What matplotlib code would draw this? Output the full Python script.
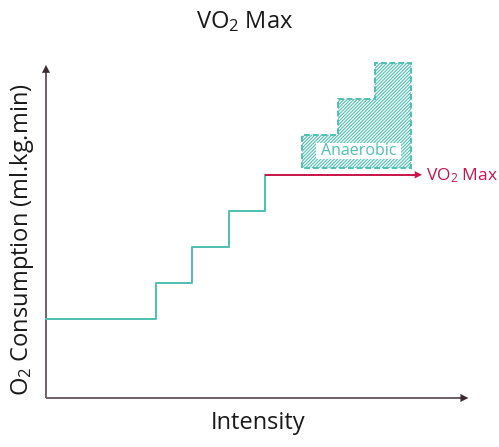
import matplotlib
matplotlib.use("Agg")
import matplotlib.pyplot as plt
from matplotlib.patches import Polygon, Rectangle

plt.rcParams['font.family'] = ['Open Sans', 'DejaVu Sans']
plt.rcParams['mathtext.default'] = 'regular'
plt.rcParams['hatch.linewidth'] = 0.8

# Data
step_x = [0, 3, 4, 5, 6]
step_y = [2.2, 3.2, 4.2, 5.2, 6.2]
vo2max_end = 10.1
anaer_x = [7, 8, 9, 10]
anaer_tops = [7.3, 8.3, 9.3]
anaer_bottom = 6.4

teal = '#4ec0b0'
red = '#c8144a'
axis_col = '#6e6068'
head_col = '#3a2a32'

fig = plt.figure(figsize=(4.99, 4.47), dpi=100)
ax = fig.add_axes([0, 0, 1, 1])
ux, uy = 36.5, 36.0
ax.set_xlim(-46 / ux, (499 - 46) / ux)
ax.set_ylim(-49 / uy, (447 - 49) / uy)
ax.axis('off')

# Axes arrows
ax.plot([0, 11.4], [0, 0], color=axis_col, lw=1.4, solid_capstyle='butt')
ax.plot([0, 0], [0, 9.1], color=axis_col, lw=1.4, solid_capstyle='butt')
ax.annotate('', xy=(11.57, 0), xytext=(11.2, 0),
            arrowprops=dict(arrowstyle='-|>,head_length=0.55,head_width=0.28',
                            color=head_col, lw=0.1, shrinkA=0, shrinkB=0))
ax.annotate('', xy=(0, 9.25), xytext=(0, 8.9),
            arrowprops=dict(arrowstyle='-|>,head_length=0.55,head_width=0.28',
                            color=head_col, lw=0.1, shrinkA=0, shrinkB=0))

# Anaerobic hatched region
pts = [(anaer_x[0], anaer_bottom)]
for i in range(3):
    pts.append((anaer_x[i], anaer_tops[i]))
    pts.append((anaer_x[i + 1], anaer_tops[i]))
pts.append((anaer_x[3], anaer_bottom))
poly = Polygon(pts, closed=True, facecolor='white', edgecolor=teal,
               hatch='//////////', lw=1.4, linestyle=(0, (3, 1.5)), zorder=2)
ax.add_patch(poly)
box = Rectangle((7.4, 6.64), 2.32, 0.44, facecolor='white', edgecolor='none', zorder=3)
ax.add_patch(box)
ax.text(8.56, 6.86, 'Anaerobic', color=teal, fontsize=11.5, ha='center',
        va='center', zorder=4)

# Step line
ax.step(step_x, step_y, where='post', color=teal, lw=1.4, zorder=5)

# VO2 max plateau
ax.plot([step_x[-1], vo2max_end], [step_y[-1], step_y[-1]], color=red, lw=1.4,
        zorder=6, solid_capstyle='butt')
ax.annotate('', xy=(vo2max_end + 0.2, step_y[-1]), xytext=(vo2max_end - 0.1, step_y[-1]),
            arrowprops=dict(arrowstyle='-|>,head_length=0.5,head_width=0.25',
                            color=red, lw=0.1, shrinkA=0, shrinkB=0), zorder=6)
ax.text(vo2max_end + 0.3, step_y[-1] - 0.02, 'VO$_2$ Max', color=red, fontsize=12.5,
        ha='left', va='center')

# Titles / labels
ax.text((245 - 46) / ux, (447 - 49 - 22) / uy, 'VO$_2$ Max', fontsize=17,
        ha='center', va='center', color='#1a1a1a')
ax.text((258 - 46) / ux, (447 - 49 - 423) / uy, 'Intensity', fontsize=17,
        ha='center', va='center', color='#1a1a1a')
ax.text((22 - 46) / ux, (447 - 49 - 240) / uy, 'O$_2$ Consumption (ml.kg.min)',
        fontsize=17, ha='center', va='center', rotation=90, color='#1a1a1a')

fig.savefig('out.png', dpi=100)
